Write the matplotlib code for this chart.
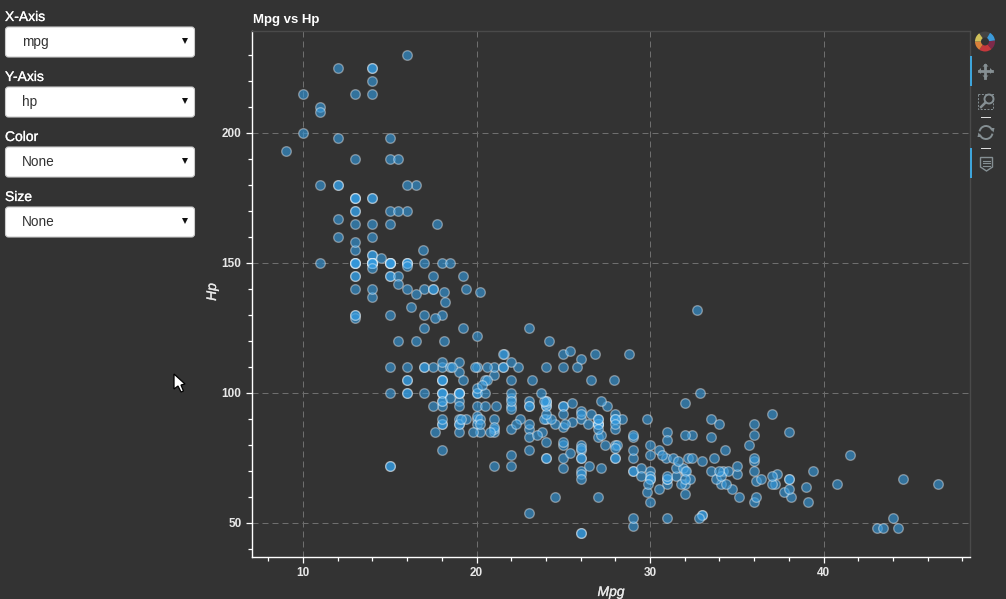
import matplotlib

matplotlib.use("Agg")
import matplotlib.patheffects as pe
import matplotlib.pyplot as plt
from matplotlib.patches import FancyBboxPatch, Polygon, Rectangle, Wedge, Arc, Circle
from matplotlib.ticker import MultipleLocator

plt.rcParams["font.family"] = ["Liberation Sans", "DejaVu Sans"]

# auto mpg
mpg = [
    18, 15, 18, 16, 17, 15, 14, 14, 14, 15, 15, 14, 15, 14, 24, 22, 18, 21, 27, 26, 25, 24, 25, 26, 21, 10, 10, 11, 9,
    27, 28, 25, 19, 16, 17, 19, 18, 14, 14, 14, 14, 12, 13, 13, 18, 22, 19, 18, 23, 28, 30, 30, 31, 35, 27, 26, 24, 25,
    23, 20, 21, 13, 14, 15, 14, 17, 11, 13, 12, 13, 19, 15, 13, 13, 14, 18, 22, 21, 26, 22, 28, 23, 28, 27, 13, 14, 13,
    14, 15, 12, 13, 13, 14, 13, 12, 13, 18, 16, 18, 18, 23, 26, 11, 12, 13, 12, 18, 20, 21, 22, 18, 19, 21, 26, 15, 16,
    29, 24, 20, 19, 15, 24, 20, 11, 20, 19, 15, 31, 26, 32, 25, 16, 16, 18, 16, 13, 14, 14, 14, 29, 26, 26, 31, 32, 28,
    24, 26, 24, 26, 31, 19, 18, 15, 15, 16, 15, 16, 14, 17, 16, 15, 18, 21, 20, 13, 29, 23, 20, 23, 24, 25, 24, 18, 29,
    19, 23, 23, 22, 25, 33, 28, 25, 25, 26, 27, 17.5, 16, 15.5, 14.5, 22, 22, 24, 22.5, 29, 24.5, 29, 33, 20, 18, 18.5,
    17.5, 29.5, 32, 28, 26.5, 20, 13, 19, 19, 16.5, 16.5, 13, 13, 13, 31.5, 30, 36, 25.5, 33.5, 17.5, 17, 15.5, 15,
    17.5, 20.5, 19, 18.5, 16, 15.5, 15.5, 16, 29, 24.5, 26, 25.5, 30.5, 33.5, 30, 30.5, 22, 21.5, 21.5, 43.1, 36.1,
    32.8, 39.4, 36.1, 19.9, 19.4, 20.2, 19.2, 20.5, 20.2, 25.1, 20.5, 19.4, 20.6, 20.8, 18.6, 18.1, 19.2, 17.7, 18.1,
    17.5, 30, 27.5, 27.2, 30.9, 21.1, 23.2, 23.8, 23.9, 20.3, 17, 21.6, 16.2, 31.5, 29.5, 21.5, 19.8, 22.3, 20.2, 20.6,
    17, 17.6, 16.5, 18.2, 16.9, 15.5, 19.2, 18.5, 31.9, 34.1, 35.7, 27.4, 25.4, 23, 27.2, 23.9, 34.2, 34.5, 31.8, 37.3,
    28.4, 28.8, 26.8, 33.5, 41.5, 38.1, 32.1, 37.2, 28, 26.4, 24.3, 19.1, 34.3, 29.8, 31.3, 37, 32.2, 46.6, 27.9, 40.8,
    44.3, 43.4, 36.4, 30, 44.6, 33.8, 29.8, 32.7, 23.7, 35, 32.4, 27.2, 26.6, 25.8, 23.5, 30, 39.1, 39, 35.1, 32.3, 37,
    37.7, 34.1, 34.7, 34.4, 29.9, 33, 33.7, 32.4, 32.9, 31.6, 28.1, 30.7, 25.4, 24.2, 22.4, 26.6, 20.2, 17.6, 28, 27,
    34, 31, 29, 27, 24, 36, 37, 31, 38, 36, 36, 36, 34, 38, 32, 38, 25, 38, 26, 22, 32, 36, 27, 27, 44, 32, 28, 31,
]
hp = [
    130, 165, 150, 150, 140, 198, 220, 215, 225, 190, 170, 160, 150, 225, 95, 95, 97, 85, 88, 46, 87, 90, 95, 113, 90,
    215, 200, 210, 193, 88, 90, 95, 100, 105, 100, 88, 100, 165, 175, 153, 150, 180, 170, 175, 110, 72, 100, 88, 86, 90,
    70, 76, 65, 69, 60, 70, 95, 80, 54, 90, 86, 165, 175, 150, 153, 150, 208, 155, 160, 190, 97, 150, 130, 140, 150, 112,
    76, 87, 69, 86, 92, 97, 80, 88, 175, 150, 145, 137, 150, 198, 150, 158, 150, 215, 225, 175, 105, 100, 100, 88, 95,
    46, 150, 167, 170, 180, 100, 88, 72, 94, 90, 85, 107, 90, 145, 230, 49, 75, 91, 112, 150, 110, 122, 180, 95, 100,
    100, 67, 80, 65, 75, 100, 110, 105, 140, 150, 150, 140, 150, 83, 67, 78, 52, 61, 75, 75, 75, 97, 93, 67, 95, 105, 72,
    72, 170, 145, 150, 148, 110, 105, 110, 95, 110, 110, 129, 75, 83, 100, 78, 96, 71, 97, 97, 70, 90, 95, 88, 98, 115,
    53, 86, 81, 92, 79, 83, 140, 150, 120, 152, 100, 105, 81, 90, 52, 60, 70, 53, 100, 78, 110, 95, 71, 70, 75, 72, 102,
    150, 88, 108, 120, 180, 145, 130, 150, 68, 80, 58, 96, 70, 145, 110, 145, 130, 110, 105, 100, 98, 180, 170, 190, 149,
    78, 88, 75, 89, 63, 83, 67, 78, 97, 110, 110, 48, 66, 52, 70, 60, 110, 140, 139, 105, 95, 85, 88, 100, 90, 105, 85,
    110, 120, 145, 165, 139, 140, 68, 95, 97, 75, 95, 105, 85, 97, 103, 125, 115, 133, 71, 68, 115, 85, 88, 90, 110, 130,
    129, 138, 135, 155, 142, 125, 150, 71, 65, 80, 80, 77, 125, 71, 90, 70, 70, 65, 69, 90, 115, 115, 90, 76, 60, 70, 65,
    90, 88, 90, 90, 78, 90, 75, 92, 75, 65, 105, 65, 48, 48, 67, 67, 67, 67, 62, 132, 100, 72, 84, 84, 92, 110, 84, 58,
    58, 64, 60, 67, 65, 62, 68, 63, 65, 65, 74, 75, 75, 100, 74, 80, 76, 116, 120, 110, 105, 88, 85, 88, 88, 88, 85, 84,
    90, 92, 74, 68, 68, 63, 70, 88, 75, 70, 67, 67, 67, 110, 85, 92, 112, 96, 84, 90, 86, 52, 84, 79, 82,
]
x_ticks = [10, 20, 30, 40]
y_ticks = [50, 100, 150, 200]
dropdowns = [("X-Axis", "mpg"), ("Y-Axis", "hp"), ("Color", "None"), ("Size", "None")]

W, H = 1006, 599
BG = "#333333"
PX = 0.72  # one pixel in points

fig = plt.figure(figsize=(W / 100, H / 100), dpi=100, facecolor=BG)

# plot frame in pixels
ax = fig.add_axes([252 / W, 1 - 557 / H, (970 - 252) / W, (557 - 31) / H], facecolor=BG)
ax.set_xlim(7.06, 48.44)
ax.set_ylim(36.9, 239.2)

ax.set_axisbelow(True)
ax.grid(True, which="major", color="#6e6e6e", linewidth=PX, linestyle=(0, (6, 4)))
ax.scatter(mpg, hp, s=48, facecolor=(0.204, 0.596, 0.859, 0.63), edgecolor=(1, 1, 1, 0.38), linewidth=1.0, zorder=3)

ax.xaxis.set_minor_locator(MultipleLocator(2))
ax.yaxis.set_minor_locator(MultipleLocator(10))
ax.set_xticks(x_ticks)
ax.set_yticks(y_ticks)
ax.tick_params(which="major", length=4.5, width=0.9, color="white", labelcolor="#e8e8e8", labelsize=8.5, pad=3)
ax.tick_params(which="minor", length=2.6, width=0.9, color="white")
for lab in ax.get_xticklabels() + ax.get_yticklabels():
    lab.set_fontweight("bold")

for side in ["left", "bottom"]:
    ax.spines[side].set_color("white")
    ax.spines[side].set_linewidth(1)
for side in ["top", "right"]:
    ax.spines[side].set_color("#4a4a4a")
    ax.spines[side].set_linewidth(1)

# everything outside the plot, in pixel coordinates
ov = fig.add_axes([0, 0, 1, 1], facecolor="none")
ov.set_xlim(0, W)
ov.set_ylim(H, 0)
ov.axis("off")

ov.text(253, 19.5, "Mpg vs Hp", color="white", fontsize=9.5, fontweight="bold", va="center", ha="left")
semi = [pe.withStroke(linewidth=0.2, foreground="#e8e8e8")]
ov.text(611, 592, "Mpg", color="#e8e8e8", fontsize=10, style="italic", va="center", ha="center", path_effects=semi)
ov.text(212, 292, "Hp", color="#e8e8e8", fontsize=10, style="italic", va="center", ha="center", rotation=90, path_effects=semi)

# dropdowns
label_fx = [pe.withStroke(linewidth=0.2, foreground="white")]
for i, (label, value) in enumerate(dropdowns):
    top = 27 + i * 60
    ov.text(5, top - 10, label, color="white", fontsize=10, va="center", ha="left", path_effects=label_fx)
    ov.add_patch(FancyBboxPatch((5.5, top), 189, 30, boxstyle="round,pad=0,rounding_size=3", facecolor="white", edgecolor="#cccccc", linewidth=0.8))
    ov.text(22, top + 15, value, color="#333333", fontsize=9.8, va="center", ha="left")
    ov.add_patch(Polygon([(182, top + 11), (188, top + 11), (185, top + 17)], facecolor="#111111", edgecolor="none"))

# mouse pointer
ov.add_patch(Polygon([(174, 374), (174, 389), (178, 386), (181, 392), (183.5, 391), (181, 385), (185, 384)], facecolor="white", edgecolor="black", linewidth=0.9, zorder=5))

# toolbar
ICON = "#858f93"
ov.add_patch(Rectangle((970, 56), 2, 30, facecolor="#3ea5dc", edgecolor="none"))
ov.add_patch(Rectangle((970, 148), 2, 30, facecolor="#3ea5dc", edgecolor="none"))
ov.plot([981, 990], [116.5, 116.5], color="#dddddd", lw=PX)
ov.plot([981, 990], [147.5, 147.5], color="#dddddd", lw=PX)

# logo ring
logo = [(-125, -60, "#444444"), (-60, -5, "#3b9ad9"), (-5, 50, "#7d2a4a"), (50, 125, "#c5383c"), (125, 180, "#d9803a"), (180, 235, "#cfc05a")]
for start, end, col in logo:
    ov.add_patch(Wedge((985, 41.5), 10, start, end, width=6, facecolor=col, edgecolor="none"))

# pan
ov.plot([979, 992], [71, 71], color=ICON, lw=2)
ov.plot([985.5, 985.5], [64.5, 77.5], color=ICON, lw=2)
for pts in [[(978, 71), (981, 68), (981, 74)], [(993, 71), (990, 68), (990, 74)], [(985.5, 63.5), (982.5, 66.5), (988.5, 66.5)], [(985.5, 78.5), (982.5, 75.5), (988.5, 75.5)]]:
    ov.add_patch(Polygon(pts, facecolor=ICON, edgecolor="none"))

# box zoom
ov.add_patch(Rectangle((978.5, 93.5), 15, 15, facecolor="none", edgecolor=ICON, lw=0.7, linestyle=(0, (2, 1.5))))
ov.add_patch(Circle((989, 99), 4.5, facecolor=BG, edgecolor=ICON, lw=1.4))
ov.plot([985.5, 981], [102.5, 107], color=ICON, lw=1.8)

# reset
ov.add_patch(Arc((986, 132.5), 13, 13, theta1=190, theta2=340, color=ICON, lw=1.4))
ov.add_patch(Arc((986, 132.5), 13, 13, theta1=10, theta2=160, color=ICON, lw=1.4))
ov.add_patch(Polygon([(990, 128), (994.5, 128), (993.5, 132.5)], facecolor=ICON, edgecolor="none"))
ov.add_patch(Polygon([(982, 137), (977.5, 137), (978.5, 132.5)], facecolor=ICON, edgecolor="none"))

# hover
ov.add_patch(Polygon([(980.5, 157.5), (992.5, 157.5), (992.5, 167), (986.5, 171), (980.5, 167)], facecolor="none", edgecolor=ICON, lw=1.0))
for y in [160.5, 163, 165.5]:
    ov.plot([983, 990], [y, y], color=ICON, lw=0.8)

fig.savefig("out.png", dpi=100, facecolor=BG)
